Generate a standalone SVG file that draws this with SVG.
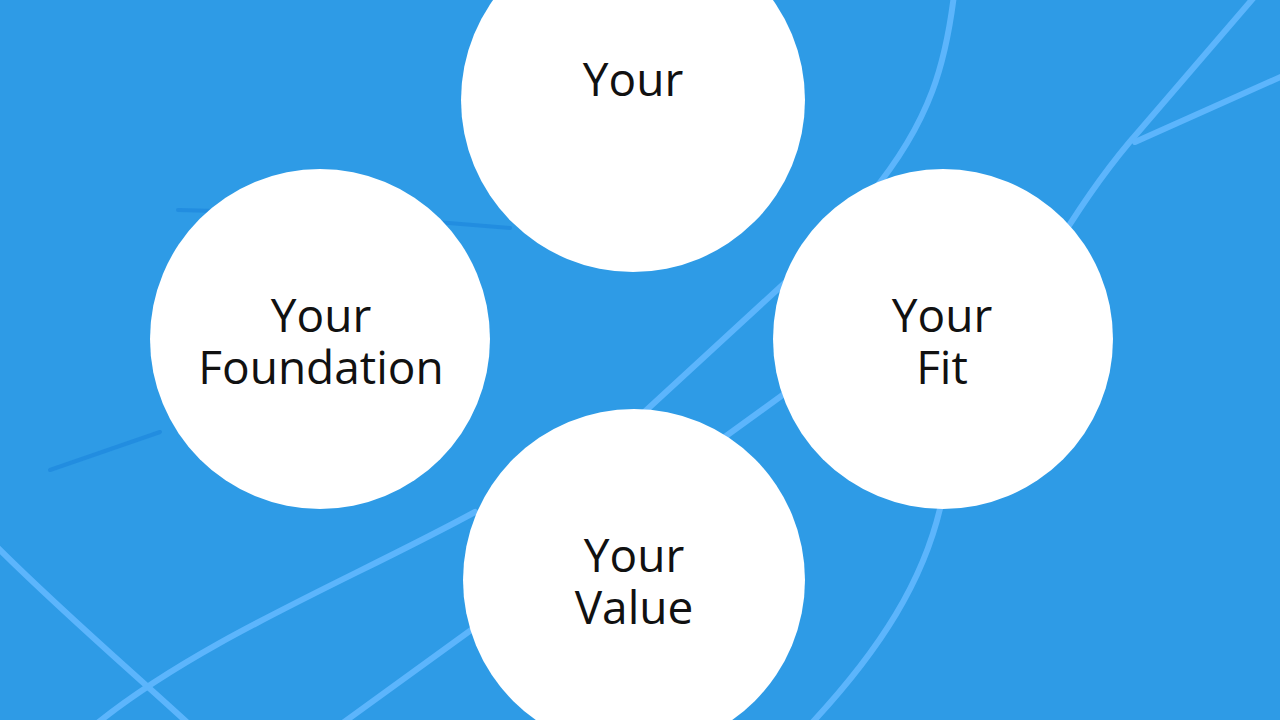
<svg xmlns="http://www.w3.org/2000/svg" width="1280" height="720" viewBox="0 0 1280 720">
<style>
.bg{fill:#2e9be6}
.ln{fill:none;stroke:#5cb5fc;stroke-width:6;stroke-linecap:round}
.dk{fill:none;stroke:#1f8ade;stroke-width:4;stroke-linecap:round;opacity:0.8}
.node{fill:#ffffff}
.lbl{font-family:"Open Sans","Liberation Sans",sans-serif;font-size:46px;fill:#111111;text-anchor:middle}
</style>
<rect class="bg" x="0" y="0" width="1280" height="720"/>
<g id="connectors">
<path class="ln" d="M954,-5 C946,60 932,120 870,195"/>
<path class="ln" d="M942,500 C925,580 880,650 810,725"/>
<path class="ln" d="M1256,-5 L1140,130 Q1100,175 1060,240"/>
<path class="ln" d="M1285,75 L1135,142"/>
<path class="ln" d="M790,278 L640,416"/>
<path class="ln" d="M795,386 L715,444"/>
<path class="ln" d="M475,512 C350,580 200,640 95,725"/>
<path class="ln" d="M-5,545 C60,610 130,670 190,725"/>
<path class="ln" d="M478,625 L340,725"/>
<path class="dk" d="M178,210 Q350,214 510,228"/>
<path class="dk" d="M50,470 L160,432"/>
</g>
<g id="node-top">
<circle class="node" cx="633" cy="100" r="172"/>
<text class="lbl" x="633" y="96">Your</text>
</g>
<g id="node-left">
<circle class="node" cx="320" cy="339" r="170"/>
<text class="lbl" x="321" y="332">Your</text>
<text class="lbl" x="321" y="384">Foundation</text>
</g>
<g id="node-right">
<circle class="node" cx="943" cy="339" r="170"/>
<text class="lbl" x="942" y="332">Your</text>
<text class="lbl" x="942" y="384">Fit</text>
</g>
<g id="node-bottom">
<circle class="node" cx="634" cy="580" r="171"/>
<text class="lbl" x="634" y="572">Your</text>
<text class="lbl" x="634" y="624">Value</text>
</g>
</svg>
